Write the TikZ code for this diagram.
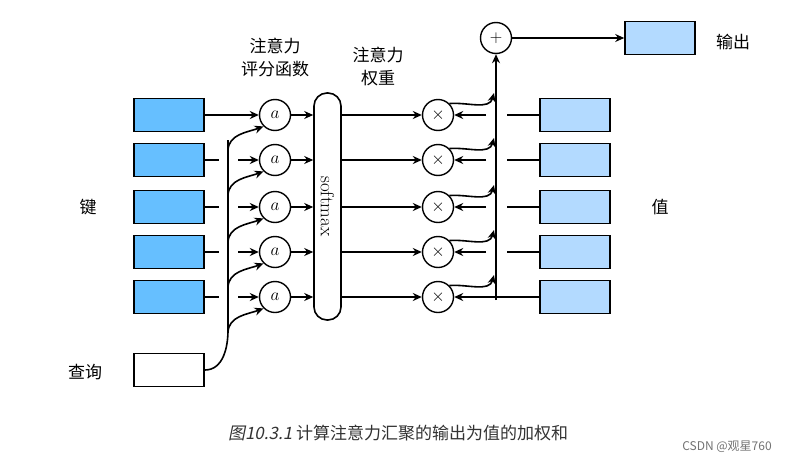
\documentclass[tikz,border=0pt]{standalone}
\usepackage{fontspec}
\newfontfamily\cjk{Noto Sans CJK SC}
\newfontfamily\cjksl{Noto Sans CJK SC}[FakeSlant=0.2]
\usetikzlibrary{arrows.meta}
\usetikzlibrary{positioning}

\definecolor{keyblue}{HTML}{66BFFF}
\definecolor{valblue}{HTML}{B3DAFF}

\tikzset{
	every path/.style={line width=1.6pt},
	keybox/.style={draw, line width=1.6pt, fill=keyblue, minimum width=70pt, minimum height=33pt},
	valbox/.style={draw, line width=1.6pt, fill=valblue, minimum width=70pt, minimum height=33pt},
	op/.style={draw, line width=1.4pt, circle, minimum size=31pt, inner sep=0pt, font=\fontsize{19}{19}\selectfont},
	lab/.style={font=\cjk\fontsize{17}{23}\selectfont, align=center},
	arr/.style={-{Stealth[length=9pt,width=8pt]}, line width=1.6pt},
}

\begin{document}
\begin{tikzpicture}[x=1pt, y=-1pt]
	\useasboundingbox[fill=white] (0,0) rectangle (797,463);

	\node[keybox, fill=white] (q) at (169,370) {};
	\node[draw, line width=1.6pt, rounded corners=13pt, minimum width=27pt, minimum height=227pt] (sm) at (327.5,206.5) {};
	\node[rotate=-90, font=\fontsize{19}{19}\selectfont] at (sm) {softmax};

	\node[op] (plus) at (496,38) {$+$};
	\node[valbox] (out) at (660,38) {};
	\coordinate (top) at (496,300);

	% query trunk
	\draw (q.east) to[out=0, in=-90] (228,330) -- (228,140);
	\foreach \i/\y in {1/115,2/160,3/207,4/252,5/297}{
		\node[keybox] (k\i) at (169,\y) {};
		\node[valbox] (v\i) at (575,\y) {};
		\node[op] (a\i) at (275,\y) {$a$};
		\node[op] (m\i) at (438,\y) {$\times$};
		\coordinate (kg\i) at (238,\y);
		\coordinate (vg\i) at (486,\y);
		\coordinate (qb\i) at (228,\y+36);
		\draw[arr] (a\i) -- (sm.west |- a\i);
		\draw[arr] (sm.east |- m\i) -- (m\i);
		\draw[arr] (m\i.north east) to[out=5, in=-105] (494,\y-22);
		\draw[arr] (qb\i) to[out=90, in=200] (a\i.south west);
	}
	% first key and last value connect directly
	\draw[arr] (k1) -- (a1);
	\draw[arr] (v5) -- (m5);
	\foreach \i in {2,3,4,5}{
		\draw (k\i.east) -- +(14,0);
		\draw[arr] (kg\i) -- (a\i);
	}
	\foreach \i in {1,2,3,4}{
		\draw (v\i.west) -- +(-32,0);
		\draw[arr] (vg\i) -- (m\i);
	}
	\draw[arr] (top) -- (plus);
	\draw[arr] (plus) -- (out);

	\node[lab] at (275,57) {注意力\\评分函数};
	\node[lab] at (378,67) {注意力\\权重};
	\node[lab] at (733,42) {输出};
	\node[lab] at (88,207) {键};
	\node[lab] at (660,207) {值};
	\node[lab] at (85,372) {查询};
	\node[lab, color=black!80] at (398,433) {{\cjksl 图10.3.1} 计算注意力汇聚的输出为值的加权和};
	\node[font=\cjk\fontsize{12}{12}\selectfont, color=black!55] at (727,447) {CSDN @观星760};
\end{tikzpicture}
\end{document}
